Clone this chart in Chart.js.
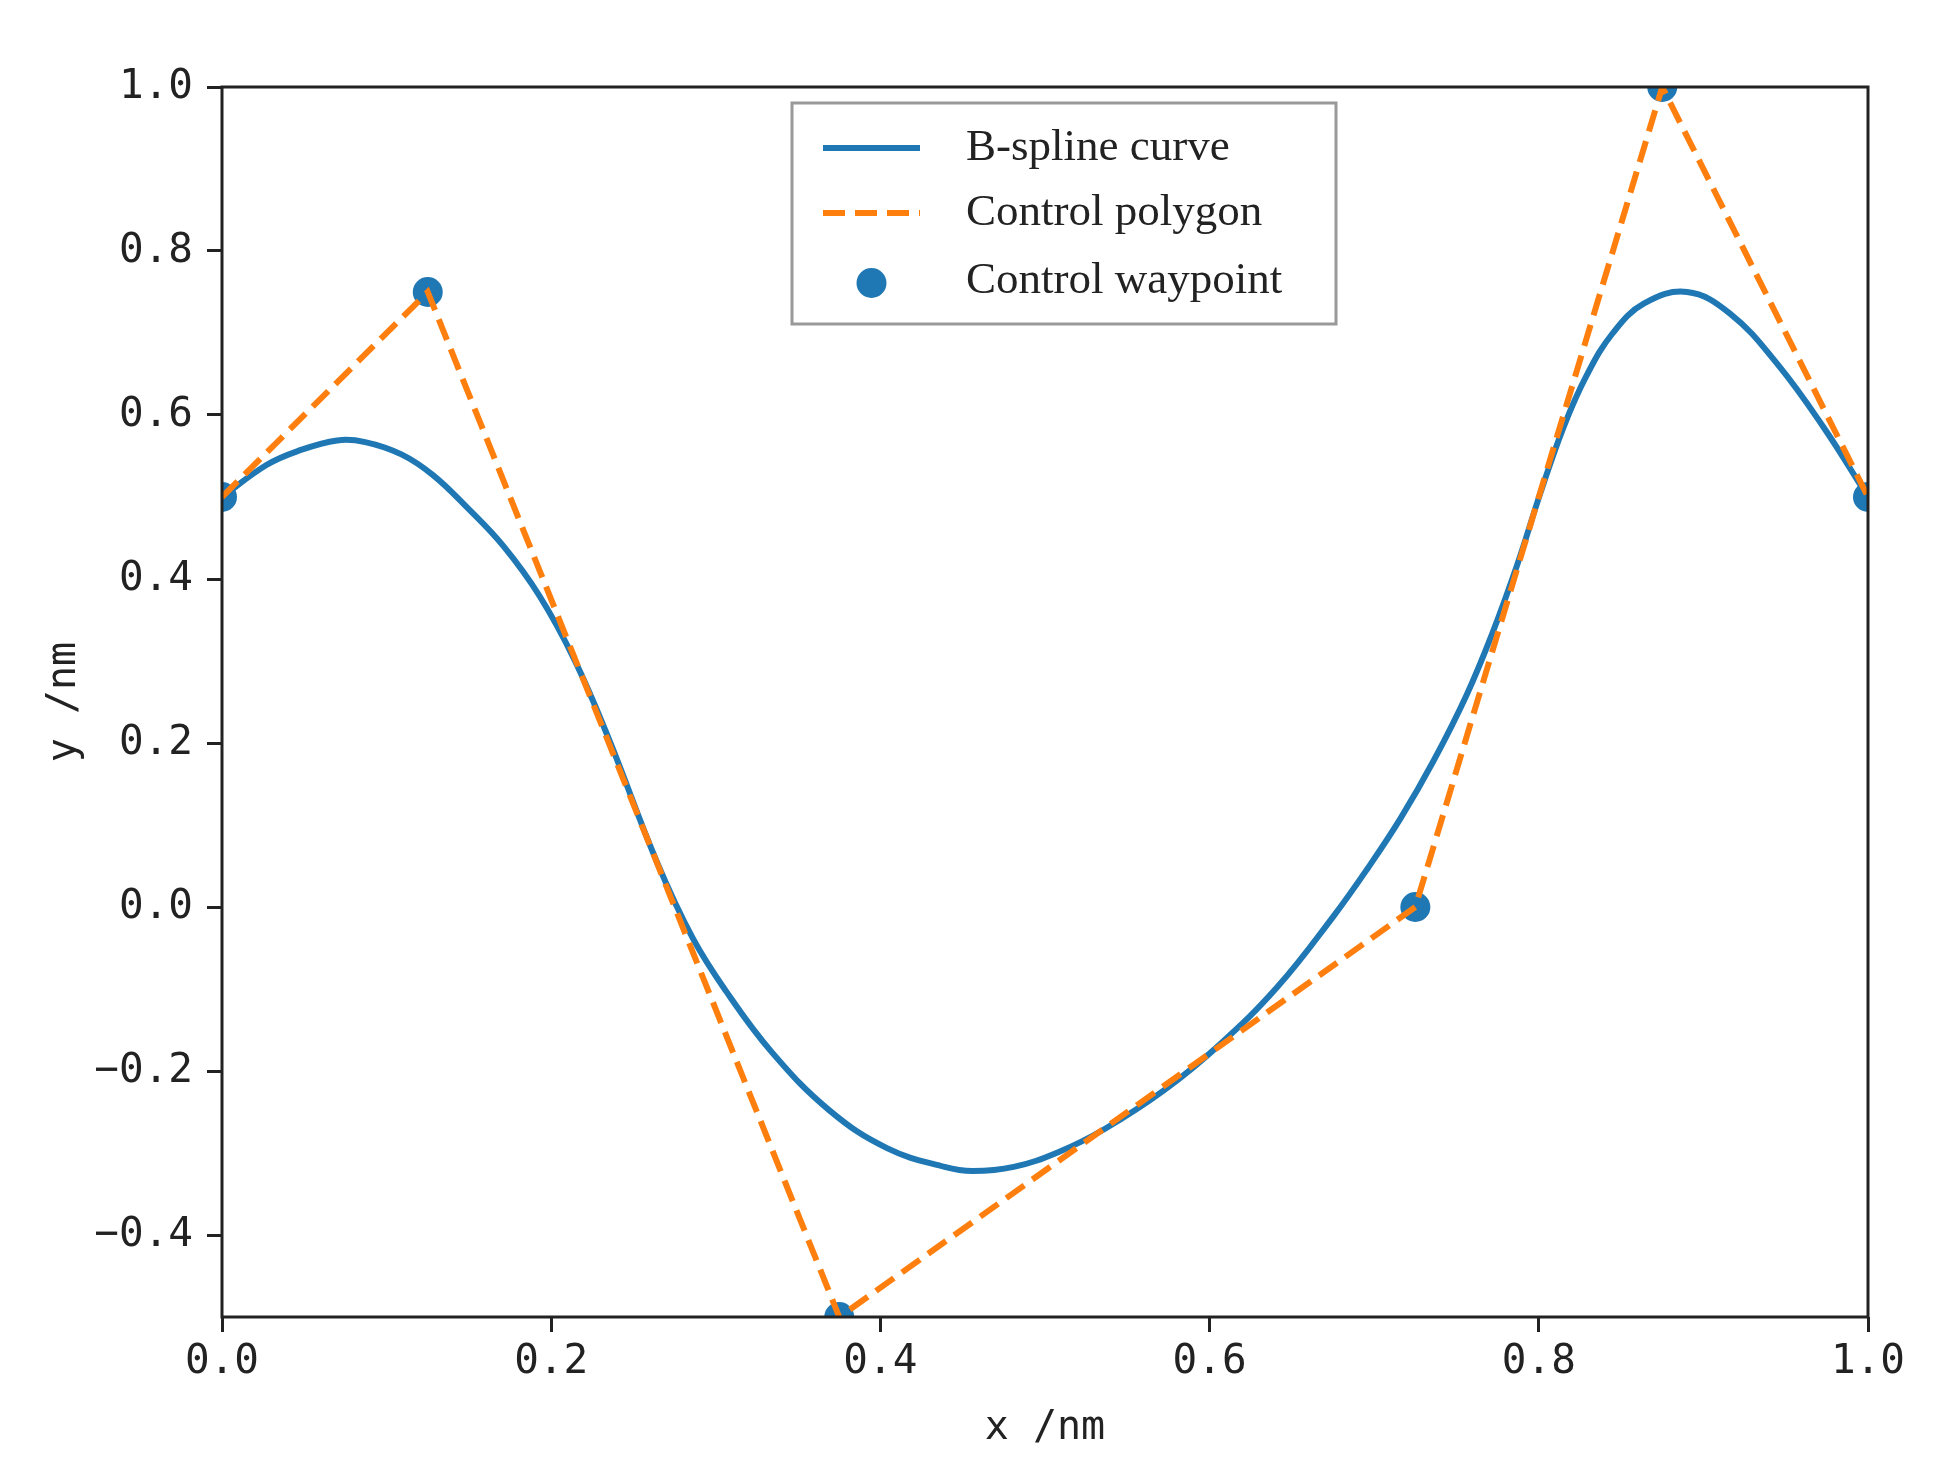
<!DOCTYPE html>
<html>
<head>
<meta charset="utf-8">
<title>B-spline curve</title>
<script src="https://cdn.jsdelivr.net/npm/chart.js@4.4.1/dist/chart.umd.min.js"></script>
<style>
  html, body { margin: 0; padding: 0; background: #fff; overflow: hidden; }
  #wrap { width: 1936px; height: 1481px; }
</style>
</head>
<body>
<div id="wrap"><canvas id="chart" width="1936" height="1481"></canvas></div>
<script>
// control waypoints (also the control polygon vertices)
const ctrlX = [0, 0.125, 0.375, 0.725, 0.875, 1.0];
const ctrlY = [0.5, 0.75, -0.5, 0.0, 1.0, 0.5];

// B-spline curve
const curveX = [0, 0.027, 0.046, 0.070, 0.087, 0.109, 0.128, 0.149, 0.171, 0.193, 0.214, 0.235,
  0.264, 0.286, 0.306, 0.334, 0.369, 0.404, 0.439, 0.456, 0.481, 0.508, 0.536, 0.572, 0.606,
  0.641, 0.675, 0.696, 0.716, 0.736, 0.756, 0.772, 0.787, 0.801, 0.815, 0.829, 0.845, 0.864,
  0.890, 0.916, 0.945, 0.973, 1.0];
const curveY = [0.5, 0.539, 0.556, 0.569, 0.567, 0.552, 0.527, 0.487, 0.440, 0.379, 0.302, 0.205,
  0.056, -0.038, -0.102, -0.177, -0.248, -0.294, -0.317, -0.322, -0.317, -0.299, -0.271, -0.224, -0.168,
  -0.098, -0.012, 0.047, 0.108, 0.178, 0.258, 0.335, 0.418, 0.505, 0.585, 0.648, 0.700, 0.736,
  0.750, 0.724, 0.662, 0.585, 0.5];

// tick labels
const xTicks = [0, 0.2, 0.4, 0.6, 0.8, 1.0];
const yTicks = [-0.4, -0.2, 0.0, 0.2, 0.4, 0.6, 0.8, 1.0];

const labels = ['B-spline curve', 'Control polygon', 'Control waypoint'];

const pairs = (xs, ys) => xs.map((x, i) => ({ x: x, y: ys[i] }));
const fmt = v => v.toFixed(1).replace('-', '\u2212');

const tickFont = { family: '"DejaVu Sans Mono", "Liberation Mono", monospace', size: 41 };
const titleFont = { family: '"DejaVu Sans Mono", "Liberation Mono", monospace', size: 40 };

// black frame round the plot area, drawn over the data like matplotlib spines
const frame = {
  id: 'frame',
  afterDatasetsDraw(chart) {
    const { ctx, chartArea: a } = chart;
    ctx.save();
    ctx.strokeStyle = '#222';
    ctx.lineWidth = 3;
    ctx.strokeRect(a.left, a.top, a.right - a.left, a.bottom - a.top);
    ctx.restore();
  }
};

// boxed legend inside the axes, top centre
const legendBox = {
  id: 'legendBox',
  afterDraw(chart) {
    const { ctx, chartArea: a } = chart;
    const ds = chart.data.datasets;
    const left = a.left + 570, top = a.top + 16, w = 544, h = 221;
    ctx.save();
    ctx.fillStyle = '#fff';
    ctx.fillRect(left, top, w, h);
    ctx.strokeStyle = '#999';
    ctx.lineWidth = 3;
    ctx.strokeRect(left, top, w, h);

    const rowY = [top + 45, top + 110, top + 178];
    const sx0 = left + 31, sx1 = left + 128, textX = left + 174;
    ds.forEach((d, i) => {
      const y = rowY[i];
      if (d.showLine) {
        ctx.beginPath();
        ctx.setLineDash(d.borderDash || []);
        ctx.strokeStyle = d.borderColor;
        ctx.lineWidth = d.borderWidth;
        ctx.moveTo(sx0, y);
        ctx.lineTo(sx1, y);
        ctx.stroke();
        ctx.setLineDash([]);
      } else {
        ctx.beginPath();
        ctx.fillStyle = d.pointBackgroundColor;
        ctx.arc((sx0 + sx1) / 2, y + 2, d.pointRadius, 0, Math.PI * 2);
        ctx.fill();
      }
      ctx.fillStyle = '#222';
      ctx.font = '45px "Liberation Serif", "DejaVu Serif", serif';
      ctx.textBaseline = 'middle';
      ctx.fillText(d.label, textX, y);
    });
    ctx.restore();
  }
};

new Chart(document.getElementById('chart'), {
  type: 'scatter',
  data: {
    datasets: [
      {
        label: labels[0],
        data: pairs(curveX, curveY),
        showLine: true,
        borderColor: '#1f77b4',
        borderWidth: 6,
        pointRadius: 0,
        tension: 0.4,
        clip: 0,
        order: 1
      },
      {
        label: labels[1],
        data: pairs(ctrlX, ctrlY),
        showLine: true,
        borderColor: '#ff7f0e',
        borderWidth: 6,
        borderDash: [22, 10],
        pointRadius: 0,
        tension: 0,
        clip: 0,
        order: 0
      },
      {
        label: labels[2],
        data: pairs(ctrlX, ctrlY),
        showLine: false,
        pointRadius: 15,
        pointBorderWidth: 0,
        pointBackgroundColor: '#1f77b4',
        pointBorderColor: '#1f77b4',
        clip: 0,
        order: 2
      }
    ]
  },
  options: {
    responsive: false,
    devicePixelRatio: 1,
    animation: false,
    events: [],
    layout: { padding: { top: 87, right: 68, left: 0, bottom: 0 } },
    plugins: {
      legend: { display: false },
      tooltip: { enabled: false }
    },
    scales: {
      x: {
        type: 'linear',
        min: 0,
        max: 1,
        afterBuildTicks: s => { s.ticks = xTicks.map(v => ({ value: v })); },
        afterFit: s => { s.height = 164; },
        border: { display: false },
        grid: { display: true, drawOnChartArea: false, drawTicks: true, tickLength: 15, tickWidth: 3, tickColor: '#222' },
        ticks: { color: '#222', font: tickFont, padding: 6, maxRotation: 0, callback: v => fmt(v) },
        title: { display: true, text: 'x /nm', color: '#222', font: titleFont, padding: { top: 0, bottom: 28 } }
      },
      y: {
        type: 'linear',
        min: -0.5,
        max: 1.0,
        afterBuildTicks: s => { s.ticks = yTicks.map(v => ({ value: v })); },
        afterFit: s => { s.width = 222; },
        border: { display: false },
        grid: { display: true, drawOnChartArea: false, drawTicks: true, tickLength: 15, tickWidth: 3, tickColor: '#222' },
        ticks: { color: '#222', font: tickFont, padding: 14, callback: v => fmt(v) },
        title: { display: true, text: 'y /nm', color: '#222', font: titleFont, padding: { top: 41, bottom: 0 } }
      }
    }
  },
  plugins: [frame, legendBox]
});
</script>
</body>
</html>
